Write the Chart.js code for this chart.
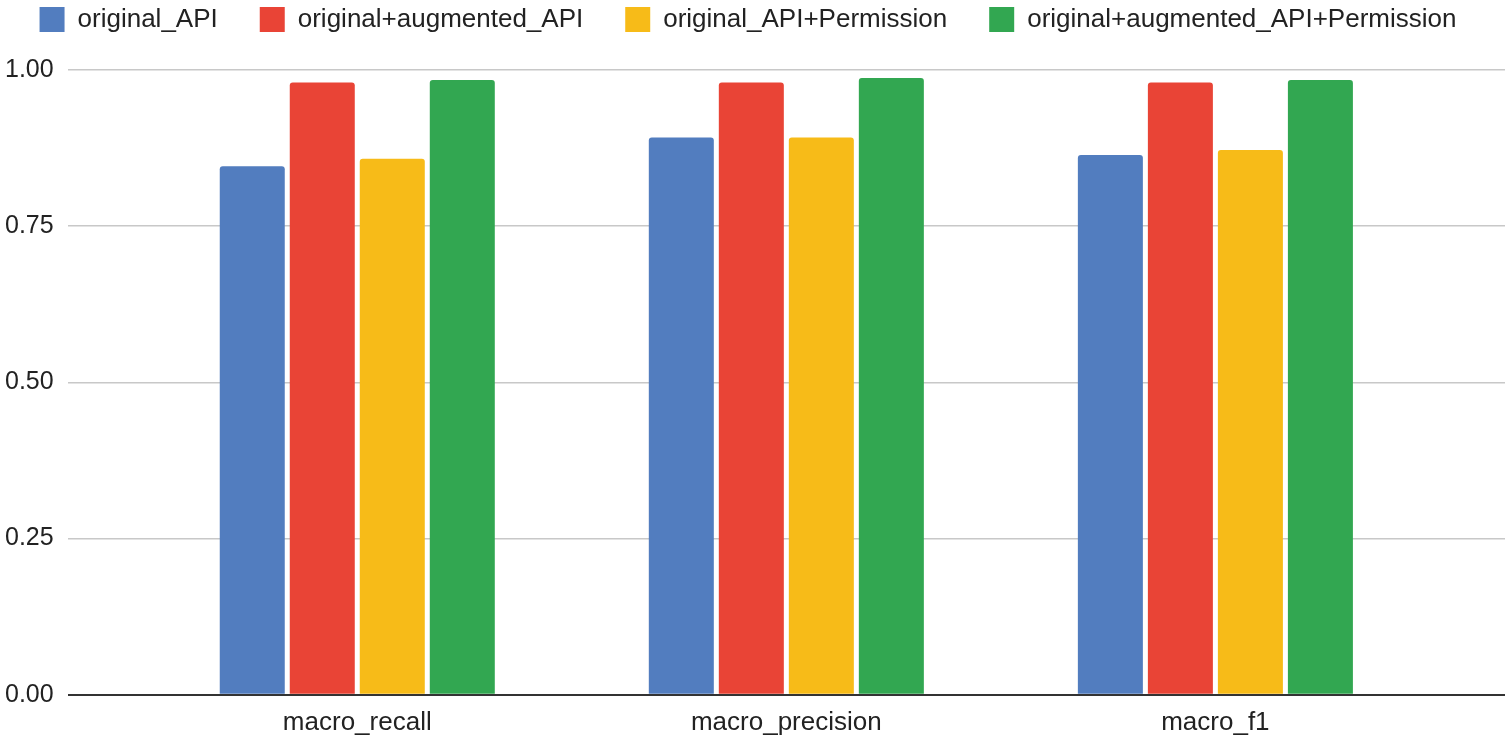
<!DOCTYPE html>
<html>
<head>
<meta charset="utf-8">
<title>macro metrics</title>
<script src="https://cdn.jsdelivr.net/npm/chart.js@4.4.1/dist/chart.umd.min.js"></script>
<style>
    html, body { margin: 0; padding: 0; background: #fff; }
    #wrap { width: 1510px; height: 740px; }
</style>
</head>
<body>
<div id="wrap"><canvas id="chart"></canvas></div>
<script>
// values
var categories = ['macro_recall', 'macro_precision', 'macro_f1']
var seriesNames = ['original_API', 'original+augmented_API', 'original_API+Permission', 'original+augmented_API+Permission']
var originalApi = [0.846, 0.892, 0.864]
var augmentedApi = [0.980, 0.980, 0.980]
var originalApiPerm = [0.858, 0.892, 0.872]
var augmentedApiPerm = [0.984, 0.987, 0.984]
var yTicks = [0, 0.25, 0.5, 0.75, 1]

var colors = ['#527dbf', '#e94436', '#f7bb18', '#32a751']
var font = "'Liberation Sans', Arial, sans-serif"

Chart.defaults.font.family = font
Chart.defaults.color = '#222'

function points(values) {
    return categories.map((c, i) => ({x: i, y: values[i]}))
}

var allSeries = [originalApi, augmentedApi, originalApiPerm, augmentedApiPerm]

// room between the legend and the plot
var legendGap = {
    id: 'legendGap',
    beforeInit(chart) {
        var fit = chart.legend.fit
        chart.legend.fit = function() {
            fit.call(this)
            this.height += 27.5
        }
    }
}

var ctx = document.getElementById('chart').getContext('2d')
var chart = new Chart(ctx, {
    type: 'bar',
    plugins: [legendGap],
    data: {
        datasets: allSeries.map((values, i) => ({
            label: seriesNames[i],
            data: points(values),
            backgroundColor: colors[i],
            borderRadius: 3,
            categoryPercentage: 0.6527,
            barPercentage: 0.9286
        }))
    },
    options: {
        responsive: true,
        maintainAspectRatio: false,
        animation: false,
        layout: {
            padding: {top: -35.5, left: -9, right: 5, bottom: -10}
        },
        plugins: {
            tooltip: {enabled: false},
            legend: {
                position: 'top',
                labels: {
                    boxWidth: 25,
                    boxHeight: 25,
                    padding: 42,
                    color: '#222',
                    font: {size: 26}
                }
            }
        },
        scales: {
            x: {
                type: 'linear',
                bounds: 'data',
                offset: false,
                min: -0.675,
                max: 2.675,
                afterBuildTicks: s => { s.ticks = categories.map((c, i) => ({value: i})) },
                grid: {display: false, drawTicks: false},
                border: {display: false},
                ticks: {
                    autoSkip: false,
                    maxRotation: 0,
                    padding: 12,
                    font: {size: 26},
                    color: '#222',
                    callback: v => categories[v]
                }
            },
            y: {
                min: 0,
                max: 1,
                afterBuildTicks: s => { s.ticks = yTicks.map(v => ({value: v})) },
                grid: {
                    drawTicks: false,
                    color: c => c.tick.value === 0 ? '#333' : '#c8c8c8',
                    lineWidth: c => c.tick.value === 0 ? 2 : 1.5
                },
                border: {display: false},
                ticks: {
                    padding: 14,
                    font: {size: 25},
                    color: '#222',
                    callback: v => v.toFixed(2)
                }
            }
        }
    }
})
</script>
</body>
</html>
